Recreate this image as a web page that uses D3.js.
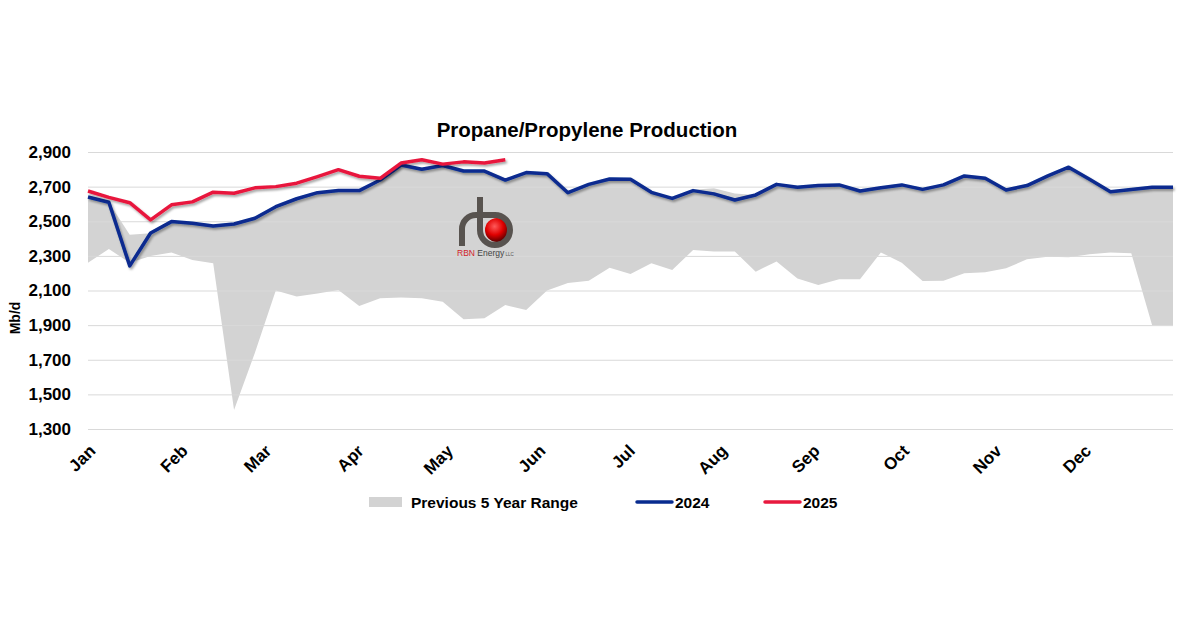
<!DOCTYPE html>
<html>
<head>
<meta charset="utf-8">
<script src="https://cdn.jsdelivr.net/npm/d3@7"></script>
<style>
    body { margin: 0; background: #fff; }
    svg { font-family: "Liberation Sans", Arial, sans-serif; }
    .axis text { font-weight: bold; fill: #000; }
    .axis .domain { display: none; }
    .y.axis line { stroke: #d9d9d9; }
</style>
</head>
<body>
<svg id="chart"></svg>
<script>
// month tick labels, y tick values
var monthLabels = ["Jan", "Feb", "Mar", "Apr", "May", "Jun", "Jul", "Aug", "Sep", "Oct", "Nov", "Dec"];
var yTicks = [1300, 1500, 1700, 1900, 2100, 2300, 2500, 2700, 2900];

// weekly values, Mb/d
var values2024 = [2640, 2610, 2242, 2432, 2498, 2488, 2473, 2484, 2517, 2584,
    2630, 2665, 2678, 2677, 2738, 2825, 2800, 2822, 2790, 2790,
    2738, 2781, 2775, 2665, 2713, 2744, 2742, 2667, 2632, 2677,
    2658, 2623, 2652, 2713, 2696, 2706, 2710, 2675, 2694, 2710,
    2684, 2710, 2762, 2748, 2681, 2706, 2762, 2812, 2742, 2671,
    2684, 2696, 2696];

var values2025 = [2675, 2638, 2607, 2508, 2595, 2612, 2668, 2662, 2693, 2700,
    2720, 2758, 2798, 2760, 2748, 2836, 2855, 2830, 2843, 2836,
    2855];

var rangeLow = [2260, 2340, 2260, 2300, 2320, 2276, 2257, 1410, 1740, 2100,
    2066, 2083, 2103, 2010, 2055, 2060, 2055, 2035, 1934, 1939,
    2016, 1988, 2100, 2143, 2157, 2232, 2195, 2257, 2218, 2334,
    2325, 2325, 2209, 2268, 2170, 2132, 2165, 2165, 2320, 2261,
    2155, 2157, 2199, 2205, 2228, 2280, 2295, 2292, 2309, 2320,
    2315, 1900, 1900];

var rangeHigh = [2640, 2608, 2422, 2430, 2498, 2488, 2473, 2484, 2517, 2584,
    2630, 2665, 2678, 2677, 2738, 2825, 2800, 2822, 2790, 2790,
    2738, 2781, 2775, 2665, 2713, 2744, 2742, 2667, 2636, 2682,
    2690, 2661, 2652, 2713, 2696, 2706, 2710, 2675, 2694, 2710,
    2684, 2710, 2762, 2748, 2681, 2706, 2762, 2812, 2742, 2671,
    2684, 2696, 2696];

var margin = {top: 152, right: 27, bottom: 201, left: 88};
var width = 1200 - margin.left - margin.right,
    height = 630 - margin.top - margin.bottom;

var startDate = new Date(2025, 0, 1);
var weekDate = function(i) { return d3.timeDay.offset(startDate, 7 * i); };

var xScale = d3.scaleTime()
    .domain([startDate, weekDate(values2024.length - 1)])
    .range([0, width]);

var yScale = d3.scaleLinear()
    .domain([d3.min(yTicks), d3.max(yTicks)])
    .range([height, 0]);

var svg = d3.select("#chart")
    .attr("width", 1200)
    .attr("height", 630);

var defs = svg.append("defs");
defs.append("filter")
    .attr("id", "shadow")
    .attr("x", "-5%").attr("y", "-20%")
    .attr("width", "110%").attr("height", "140%")
    .append("feDropShadow")
    .attr("dx", 1.5)
    .attr("dy", 2)
    .attr("stdDeviation", 1.3)
    .attr("flood-color", "#000")
    .attr("flood-opacity", 0.35);

var ballGrad = defs.append("radialGradient")
    .attr("id", "ball")
    .attr("cx", "40%").attr("cy", "35%").attr("r", "65%");
ballGrad.append("stop").attr("offset", "0%").attr("stop-color", "#ff5a5a");
ballGrad.append("stop").attr("offset", "55%").attr("stop-color", "#e00000");
ballGrad.append("stop").attr("offset", "100%").attr("stop-color", "#5a0000");

var g = svg.append("g")
    .attr("transform", "translate(" + margin.left + "," + margin.top + ")");

// range band
var band = d3.area()
    .x(function(d, i) { return xScale(weekDate(i)); })
    .y0(function(d) { return yScale(d); })
    .y1(function(d, i) { return yScale(rangeHigh[i]); });

g.append("path")
    .datum(rangeLow)
    .attr("d", band)
    .attr("fill", "#d3d3d3");

// gridlines + y labels
var yAxis = d3.axisLeft(yScale)
    .tickValues(yTicks)
    .tickFormat(d3.format(","))
    .tickSize(-width)
    .tickPadding(17);

g.append("g")
    .attr("class", "y axis")
    .call(yAxis)
    .selectAll("text")
    .style("font-size", "17px");

// x axis
var xAxis = d3.axisBottom(xScale)
    .ticks(d3.timeMonth.every(1))
    .tickFormat(function(d) { return monthLabels[d.getMonth()]; })
    .tickSize(0);

g.append("g")
    .attr("class", "x axis")
    .attr("transform", "translate(0," + height + ")")
    .call(xAxis)
    .selectAll("text")
    .style("font-size", "17px")
    .style("text-anchor", "end")
    .attr("dy", 0)
    .attr("y", 0)
    .attr("transform", "translate(8,23) rotate(-45)");

// logo
var logo = g.append("g")
    .attr("transform", "translate(" + (-margin.left) + "," + (-margin.top) + ")");
logo.append("circle")
    .attr("cx", 497).attr("cy", 230).attr("r", 12)
    .attr("fill", "url(#ball)");
logo.append("path")
    .attr("d", "M462,246 V229 A14,14 0 0 1 476,215 H481")
    .attr("fill", "none").attr("stroke", "#58534f").attr("stroke-width", 6);
logo.append("path")
    .attr("d", "M480,197 V230 A15,15 0 1 0 495,215 H481")
    .attr("fill", "none").attr("stroke", "#58534f").attr("stroke-width", 6);
var logoText = logo.append("text")
    .attr("x", 457).attr("y", 256)
    .style("font-size", "8.5px");
logoText.append("tspan").attr("fill", "#d2232a").text("RBN ");
logoText.append("tspan").attr("fill", "#444").text("Energy");
logoText.append("tspan").attr("fill", "#555").style("font-size", "4.5px").text(" LLC");

// series lines
var line = d3.line()
    .x(function(d, i) { return xScale(weekDate(i)); })
    .y(function(d) { return yScale(d); });

g.append("path")
    .datum(values2024)
    .attr("d", line)
    .attr("fill", "none")
    .attr("stroke", "#082b8f")
    .attr("stroke-width", 3.5)
    .attr("stroke-linejoin", "round")
    .attr("filter", "url(#shadow)");

g.append("path")
    .datum(values2025)
    .attr("d", line)
    .attr("fill", "none")
    .attr("stroke", "#e8193e")
    .attr("stroke-width", 3.5)
    .attr("stroke-linejoin", "round")
    .attr("filter", "url(#shadow)");

// title
svg.append("text")
    .attr("x", 587)
    .attr("y", 137)
    .attr("text-anchor", "middle")
    .style("font-size", "20.5px")
    .style("font-weight", "bold")
    .text("Propane/Propylene Production");

// y title
svg.append("text")
    .attr("transform", "translate(20,318) rotate(-90)")
    .attr("text-anchor", "middle")
    .style("font-size", "14px")
    .style("font-weight", "bold")
    .text("Mb/d");

// legend
var legend = svg.append("g")
    .attr("transform", "translate(0,502)")
    .style("font-size", "15.5px")
    .style("font-weight", "bold");

legend.append("rect")
    .attr("x", 369).attr("y", -5).attr("width", 33).attr("height", 10)
    .attr("fill", "#d3d3d3");
legend.append("text").attr("x", 411).attr("y", 5.5).text("Previous 5 Year Range");

legend.append("line")
    .attr("x1", 637).attr("x2", 672).attr("y1", 0).attr("y2", 0)
    .attr("stroke", "#082b8f").attr("stroke-width", 3.5).attr("stroke-linecap", "round");
legend.append("text").attr("x", 675).attr("y", 5.5).text("2024");

legend.append("line")
    .attr("x1", 765).attr("x2", 800).attr("y1", 0).attr("y2", 0)
    .attr("stroke", "#e8193e").attr("stroke-width", 3.5).attr("stroke-linecap", "round");
legend.append("text").attr("x", 803).attr("y", 5.5).text("2025");
</script>
</body>
</html>
